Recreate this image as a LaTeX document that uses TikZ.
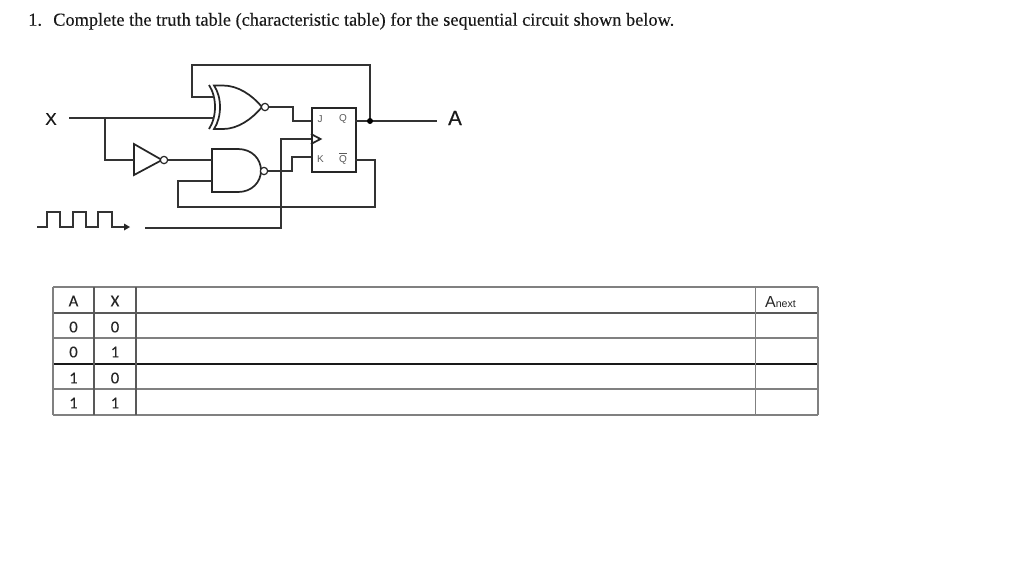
\documentclass[tikz,border=0pt]{standalone}
\usepackage{fontspec}
\setmainfont{Liberation Serif}
\newfontfamily\titlefont[FakeBold=0.25]{Liberation Serif}
\newfontfamily\cellfont[FakeBold=0.2]{Carlito}
\newfontfamily\labfont{Liberation Sans}
\newfontfamily\sigfont[FakeBold=0.3]{Liberation Sans}
\tikzset{
  x=0.75pt,y=-0.75pt,
  wire/.style={line width=1.45pt,draw=black!80,line join=miter},
  thinwire/.style={line width=1.1pt,draw=black!80},
  gate/.style={line width=1.3pt,draw=black!85},
  bubble/.style={circle,draw=black!85,line width=0.9pt,fill=white,inner sep=0pt,minimum size=5.5pt},
  dot/.style={circle,fill=black,inner sep=0pt,minimum size=4.5pt},
  title/.style={font=\titlefont\fontsize{13.75pt}{16pt}\selectfont,anchor=base west,inner sep=0pt,text=black!90},
  sig/.style={font=\sigfont\fontsize{13pt}{15pt}\selectfont,inner sep=0pt,text=black!90},
  ff/.style={font=\labfont\fontsize{7.5pt}{9pt}\selectfont,inner sep=0pt,text=black!65},
  cell/.style={font=\cellfont\fontsize{12.5pt}{14pt}\selectfont,inner sep=0pt,text=black!85},
  grid/.style={line width=0.8pt,draw=black!50},
  rule/.style={line width=1.3pt,draw=black!65},
  blackrule/.style={line width=1pt,draw=black!90},
}
\begin{document}
\begin{tikzpicture}
\useasboundingbox (0,0) rectangle (1024,576);
% title
\node[title] (num) at (28,25.7) {1.};
\node[title] (ttl) at (53,25.7) {Complete the truth table (characteristic table) for the sequential circuit shown below.};
% labels
\node[sig] (lx) at (51,119) {X};
\node[sig,font=\sigfont\fontsize{15.5pt}{17pt}\selectfont] (la) at (455,118) {A};
% coordinates
\coordinate (xs) at (69,118);
\coordinate (xj) at (105,118);
\coordinate (xorA) at (214,96.7);
\coordinate (xorB) at (214,118);
\coordinate (qj) at (370,121);
\coordinate (ae) at (437,121);
\coordinate (invIn) at (134,160);
\coordinate (andA) at (212,160);
\coordinate (andB) at (212,181);
\coordinate (clk) at (145,228);
% flip-flop
\node[draw=black!85,line width=1.3pt,minimum width=33pt,minimum height=48pt,inner sep=0pt,anchor=north west,fill=white] (ffb) at (311,107) {};
\coordinate (ffJ) at (311,121);
\coordinate (ffC) at (311,139);
\coordinate (ffK) at (311,157);
\coordinate (ffQ) at (355,121);
\coordinate (ffN) at (355,160);
\node[ff] (tj) at (320,119) {J};
\node[ff] (tq) at (343,119) {Q};
\node[ff] (tk) at (320.5,159.5) {K};
\node[ff] (tn) at (343,158.5) {$\overline{\mbox{Q}}$};
\draw[gate] (311,134) -- (320.5,139) -- (311,144);
% XOR
\draw[gate] (209,85) .. controls (217,97) and (217,117) .. (209,129);
\draw[gate] (214,85.5) .. controls (222,97) and (222,117) .. (214,129)
  -- (223,129) .. controls (238,129) and (252,119) .. (262,107)
  .. controls (252,95) and (238,85.5) .. (223,85.5) -- cycle;
\node[bubble] (xorO) at (265,107) {};
% AND/NAND
\draw[gate] (212,149) -- (238,149) .. controls (252,149) and (261,159) .. (261,170.5)
  .. controls (261,182) and (252,192) .. (238,192) -- (212,192) -- cycle;
\node[bubble] (andO) at (264,171) {};
% inverter
\draw[gate] (134,144) -- (162,160) -- (134,175) -- cycle;
\node[bubble] (invO) at (164,160) {};
% wires
\draw[wire] (xs) -- (xorB);
\draw[wire] (xj) |- (invIn);
\draw[thinwire] (invO) -- (andA);
\draw[wire] (xorA) -| (191.7,65.3) -| (qj);
\draw[wire] (ffQ) -- (ae);
\node[dot] (jd) at (qj) {};
\draw[wire] (xorO) -| (293,121) -- (ffJ);
\draw[wire] (andO) -| (292,157) -- (ffK);
\draw[wire] (andB) -| (178,207) -| (375,160) -- (ffN);
\draw[wire] (clk) -| (281,139) -- (ffC);
% clock waveform
\coordinate (ws) at (37,227);
\coordinate (we) at (125,227);
\draw[wire,line width=1.2pt] (ws) -- (47,227) |- (60,212) |- (73,227) |- (86,212) |- (98,227) |- (112,212) |- (we);
\draw[fill=black!85,draw=none] (124,223.5) -- (130,227) -- (124,230.5) -- cycle;
% table
\foreach \y in {338,415,287} \draw[grid] (53,\y) -- (818,\y);
\draw[grid,line width=1.1pt] (53,389) -- (818,389);
\draw[rule] (53,313) -- (818,313);
\draw[blackrule] (53,364) -- (818,364);
\foreach \x in {53,818} \draw[grid,line width=1.1pt] (\x,287) -- (\x,415);
\draw[rule,line width=1pt] (94,287) -- (94,415);
\draw[rule,line width=1pt] (136,287) -- (136,415);
\draw[grid] (755.5,287) -- (755.5,415);
\node[cell] (hA) at (73.5,301) {A};
\node[cell] (hX) at (115,301) {X};
\node[cell] (a1) at (73.5,327) {0};
\node[cell] (x1) at (115,327) {0};
\node[cell] (a2) at (73.5,352) {0};
\node[cell] (x2) at (115,352) {1};
\node[cell] (a3) at (73.5,378) {1};
\node[cell] (x3) at (115,378) {0};
\node[cell] (a4) at (73.5,403) {1};
\node[cell] (x4) at (115,403) {1};
\node[font=\labfont\fontsize{12pt}{13pt}\selectfont,inner sep=0pt,text=black!85,anchor=base] (hN) at (780.5,307.5) {A{\fontsize{8pt}{9pt}\selectfont next}};
\end{tikzpicture}
\end{document}
